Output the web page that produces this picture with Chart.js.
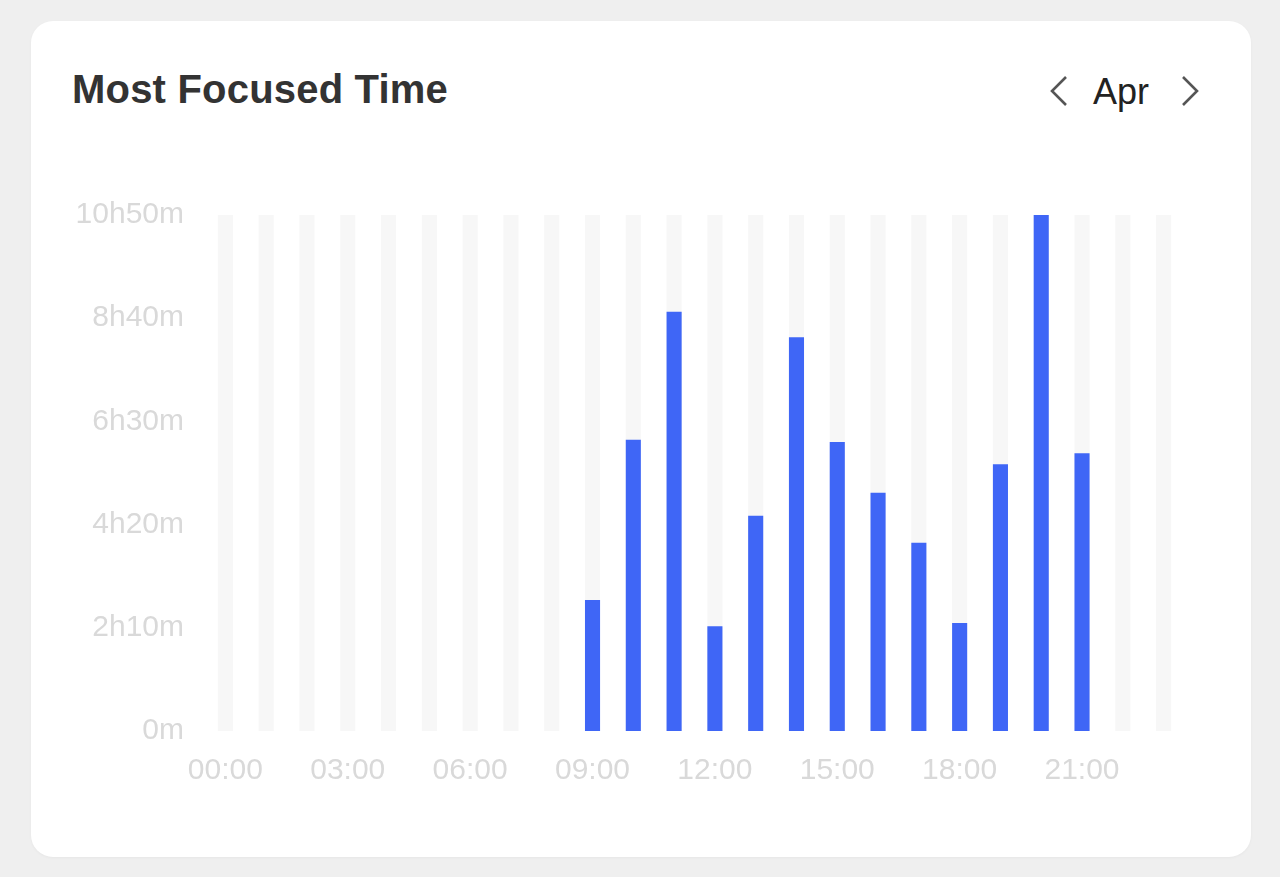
<!DOCTYPE html>
<html>
<head>
<meta charset="utf-8">
<script src="https://cdn.jsdelivr.net/npm/chart.js@4.4.1/dist/chart.umd.min.js"></script>
<style>
    html, body { margin: 0; padding: 0; width: 1280px; height: 877px; background: #efefef; overflow: hidden; font-family: 'Liberation Sans', Helvetica, Arial, sans-serif; }
    .card { position: absolute; left: 31px; top: 21px; width: 1220px; height: 836px; background: #fff; border-radius: 22px; box-shadow: 0 1px 3px rgba(0,0,0,0.04); }
    .title { position: absolute; left: 72px; top: 67px; font-size: 40px; font-weight: bold; color: #333; letter-spacing: 0.2px; }
    .month { position: absolute; left: 1093px; top: 71px; font-size: 36px; color: #222; }
    .nav { position: absolute; top: 74px; }
    .chart-box { position: absolute; left: 60px; top: 176px; width: 1150px; height: 647px; }
</style>
</head>
<body>
<div class="card"></div>
<div class="title">Most Focused Time</div>
<svg class="nav" style="left:1046px" width="26" height="34"><polyline points="20,3 6,17 20,31" fill="none" stroke="#555" stroke-width="2.6"/></svg>
<div class="month">Apr</div>
<svg class="nav" style="left:1177px" width="26" height="34"><polyline points="6,3 20,17 6,31" fill="none" stroke="#555" stroke-width="2.6"/></svg>
<div class="chart-box"><canvas id="focusChart"></canvas></div>

<script>
// Chart data (minutes per hour of day)
const hours = ['00:00', '01:00', '02:00', '03:00', '04:00', '05:00', '06:00', '07:00', '08:00', '09:00', '10:00', '11:00',
    '12:00', '13:00', '14:00', '15:00', '16:00', '17:00', '18:00', '19:00', '20:00', '21:00', '22:00', '23:00'];
const focusMinutes = [0, 0, 0, 0, 0, 0, 0, 0, 0, 165, 367, 528, 132, 271, 496, 364, 300, 237, 136, 336, 650, 350, 0, 0];
const yMax = 650;
const yStep = 130;

function fmtMinutes(v) {
    if (v === 0) return '0m';
    const h = Math.floor(v / 60);
    const m = v % 60;
    return h + 'h' + m + 'm';
}

document.addEventListener("DOMContentLoaded", function () {
    Chart.defaults.font.family = "'Liberation Sans', Helvetica, Arial, sans-serif";

    const track = hours.map(() => yMax);

    new Chart(document.getElementById('focusChart').getContext('2d'), {
        type: 'bar',
        data: {
            labels: hours,
            datasets: [
                {
                    label: 'Focus',
                    data: focusMinutes,
                    backgroundColor: '#3f66f6',
                    borderWidth: 0,
                    order: 1
                },
                {
                    label: 'Track',
                    data: track,
                    backgroundColor: '#f7f7f7',
                    borderWidth: 0,
                    order: 2
                }
            ]
        },
        options: {
            responsive: true,
            maintainAspectRatio: false,
            animation: false,
            layout: { padding: { top: 11, right: 26, bottom: 12, left: 0 } },
            datasets: { bar: { barPercentage: 0.37, categoryPercentage: 1, grouped: false } },
            plugins: {
                legend: { display: false },
                tooltip: { enabled: false }
            },
            scales: {
                x: {
                    grid: { display: false, drawTicks: false },
                    border: { display: false },
                    ticks: {
                        autoSkip: false,
                        maxRotation: 0,
                        padding: 22,
                        color: '#d9d9d9',
                        font: { size: 30 },
                        callback: (val, i) => (i % 3 === 0 ? hours[i] : '')
                    }
                },
                y: {
                    min: 0,
                    max: yMax,
                    grid: { display: false, drawTicks: false },
                    border: { display: false },
                    afterFit: (scale) => { scale.width = 145; },
                    ticks: {
                        stepSize: yStep,
                        padding: 21,
                        color: '#d9d9d9',
                        font: { size: 30 },
                        callback: (v) => fmtMinutes(v)
                    }
                }
            }
        }
    });
});
</script>
</body>
</html>
